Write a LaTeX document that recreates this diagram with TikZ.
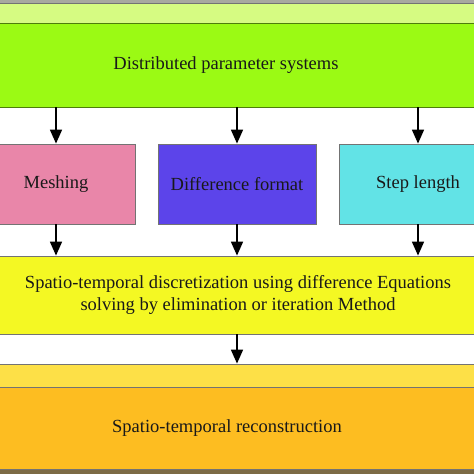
\documentclass[tikz,border=0pt]{standalone}
\usepackage{fontspec}
\setmainfont{Liberation Serif}
\usepackage{tikz}
\usetikzlibrary{arrows.meta}

\definecolor{bandgrey}{HTML}{A8A8A0}
\definecolor{lightlime}{HTML}{D6FB82}
\definecolor{lime}{HTML}{9BFA14}
\definecolor{meshpink}{HTML}{E986A9}
\definecolor{diffblue}{HTML}{5C44EA}
\definecolor{stepcyan}{HTML}{62E3E6}
\definecolor{discyellow}{HTML}{F4F823}
\definecolor{lightorange}{HTML}{FDE047}
\definecolor{reconorange}{HTML}{FDBD21}
\definecolor{bottomdark}{HTML}{7C6B45}

\tikzset{
	box/.style={draw=black!55, line width=0.8pt, text=black!90, inner sep=0pt, align=center},
	flow/.style={line width=1.6pt, -{Triangle[length=14pt,width=12pt]}}
}

\begin{document}
\begin{tikzpicture}[x=1pt, y=-1pt, font=\fontsize{18.5}{22}\selectfont]
		\useasboundingbox (0,0) rectangle (474,474);
		% upper part
		\fill [bandgrey] (0,0) rectangle (474,3);
		\node [box, fill=lightlime, minimum width=520pt, minimum height=20pt] (systop) at (226,13) {};
		\node [box, fill=lime, draw=lime!50!black, minimum width=520pt, minimum height=84pt] (sys) at (226,65) {Distributed parameter systems};
		
		% middle boxes
		\node [box, fill=meshpink, minimum width=158pt, minimum height=80pt] (mesh) at (56,184) {Meshing};
		\node [box, fill=diffblue, minimum width=158pt, minimum height=80pt] (diff) at (237,184) {Difference format};
		\node [box, fill=stepcyan, minimum width=158pt, minimum height=80pt] (step length) at (418,184) {Step length};
		
		\node [box, fill=discyellow, minimum width=520pt, minimum height=78pt] (disc) at (238,295) {Spatio-temporal discretization using difference Equations\\ solving by elimination or iteration Method};
		
		%lower part
		\node [box, fill=lightorange, minimum width=520pt, minimum height=23pt] (recontop) at (237,375.5) {};
		\node [box, fill=reconorange, minimum width=520pt, minimum height=82pt] (recon) at (227,428) {Spatio-temporal reconstruction};
		\fill [bottomdark] (0,469.5) rectangle (474,474);
		
		% arrows
		\foreach \b in {mesh,diff,step length}
		{
		\draw [flow] (sys.south -| \b.north) -- (\b.north);
		\draw [flow] (\b.south) -- (disc.north -| \b.south);
		}
		\draw [flow] (disc.south -| diff.south) -- (recontop.north -| diff.south);
\end{tikzpicture}
\end{document}
